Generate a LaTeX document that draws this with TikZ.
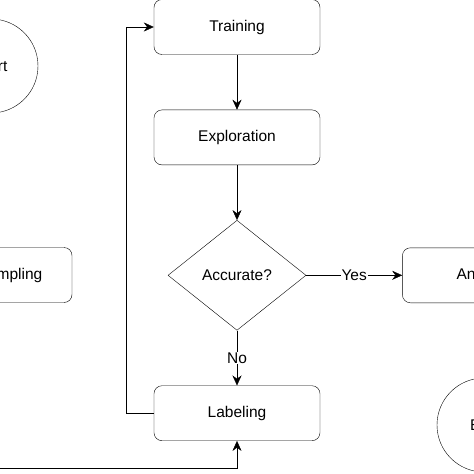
\documentclass[tikz,border=0pt]{standalone}
\usepackage{fontspec}
\setmainfont{Liberation Sans}
\usetikzlibrary{positioning,shapes.geometric,arrows.meta}
\tikzset{
>={Stealth[length=10pt,width=9pt]},
line width=1.6pt,
node distance=55pt,
every node/.style={font=\fontsize{15.5}{18}\selectfont},
process/.style={draw, rounded corners=8pt, minimum width=166pt, minimum height=55pt},
decision/.style={draw, diamond, minimum width=138pt, minimum height=110pt, inner sep=0pt},
terminal/.style={draw, circle, minimum size=94pt},
}

\begin{document}
\begin{tikzpicture}[x=1pt,y=-1pt]
        \useasboundingbox (0,0) rectangle (474,474);
        \clip (0,0) rectangle (474,474);

        \node[process] (train) at (237,27) {Training};
        \node[process,below=of train] (explore) {Exploration};
        \node[decision,below=of explore] (accurate) {Accurate?};
        \node[process,below=of accurate] (label) {Labeling};
        \node[process,right=96pt of accurate] (analysis) {Analysis};
        \node[process,minimum width=124pt] (sampling) at (10,275) {Sampling};
        \node[terminal] (start) at (-9,66) {Start};
        \node[terminal] (end) at (484,425) {End};
        \coordinate (feed) at (-40,468);

        \draw[->] (train) -- (explore);
        \draw[->] (explore) -- (accurate);
        \draw[->] (accurate) -- node[fill=white,inner sep=1pt]{Yes} (analysis);
        \draw[->] (accurate) -- node[fill=white,inner sep=1pt]{No} (label);
        \draw[->] (label.west) -- ++(-28pt,0) |- (train.west);
        \draw[->] (feed) -| (label.south);
    \end{tikzpicture}
\end{document}
